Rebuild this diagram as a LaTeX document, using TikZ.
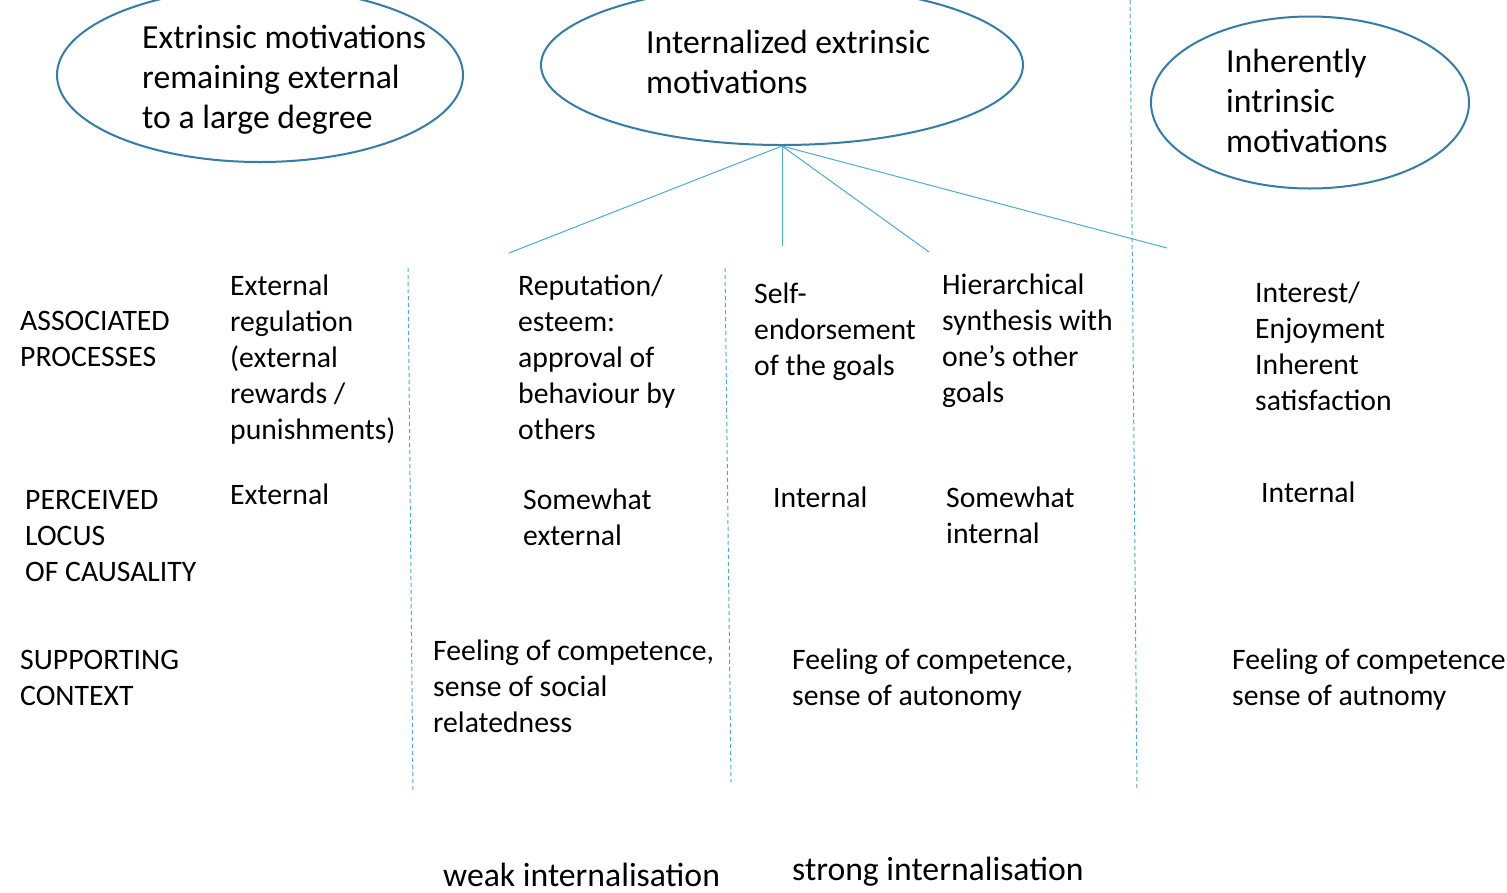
\documentclass[tikz,border=0pt]{standalone}
\usepackage{fontspec}
\setmainfont{Carlito}
\usetikzlibrary{shapes.geometric}
\definecolor{ellcol}{RGB}{52,125,168}
\definecolor{lncol}{RGB}{75,172,210}
\newcommand{\bodyfont}{\fontsize{29.7}{36}\selectfont}
\newcommand{\ellfont}{\fontsize{33.7}{40}\selectfont}
\newcommand{\botfont}{\fontsize{33.7}{38}\selectfont}
\tikzset{
  ell/.style={draw=ellcol, line width=2pt, ellipse, inner sep=0pt},
  body/.style={anchor=north west, inner sep=0pt, align=left, font=\bodyfont},
  elltext/.style={anchor=north west, inner sep=0pt, align=left, font=\ellfont},
  bottext/.style={anchor=base west, inner sep=0pt, font=\botfont},
  conn/.style={draw=lncol, line width=1pt},
  sep/.style={draw=lncol, line width=1pt, dash pattern=on 4pt off 3pt},
}
\begin{document}
\begin{tikzpicture}[x=1pt,y=-1pt]
\useasboundingbox (0,0) rectangle (1507,892);
% ellipses
\node[ell, minimum width=406pt, minimum height=174pt] (e1) at (260,75) {};
\node[ell, minimum width=482pt, minimum height=160pt] (e2) at (782,65) {};
\node[ell, minimum width=318pt, minimum height=172pt] (e3) at (1310,102.5) {};
\node[elltext] (t1) at (142,20) {\strut Extrinsic motivations\\remaining external\\to a large degree};
\node[elltext] (t2) at (646,25) {\strut Internalized extrinsic\\motivations};
\node[elltext] (t3) at (1226,44) {\strut Inherently\\intrinsic\\motivations};
% connectors
\coordinate (c1) at (509,253);
\coordinate (c2) at (782,246);
\coordinate (c3) at (929,252);
\coordinate (c4) at (1167,248);
\draw[conn] (e2.south) -- (c1);
\draw[conn] (e2.south) -- (c2);
\draw[conn] (e2.south) -- (c3);
\draw[conn] (e2.south) -- (c4);
% dashed separators
\coordinate (d1a) at (408,268); \coordinate (d1b) at (413,793);
\coordinate (d2a) at (725,268); \coordinate (d2b) at (731,782);
\coordinate (d3a) at (1130,0);  \coordinate (d3b) at (1137,790);
\draw[sep] (d1a) -- (d1b);
\draw[sep] (d2a) -- (d2b);
\draw[sep] (d3a) -- (d3b);
% row labels
\node[body] (r1) at (20,305) {\strut ASSOCIATED\\PROCESSES};
\node[body] (r2) at (25,484) {\strut PERCEIVED\\LOCUS\\OF CAUSALITY};
\node[body] (r3) at (20,644) {\strut SUPPORTING\\CONTEXT};
% column 1
\node[body] (a1) at (230,270) {\strut External\\regulation\\(external\\rewards /\\punishments)};
\node[body] (b1) at (230,479) {\strut External};
% column 2
\node[body] (a2) at (518,270) {\strut Reputation/\\esteem:\\approval of\\behaviour by\\others};
\node[body] (b2) at (523,484) {\strut Somewhat\\external};
\node[body] (s2) at (433,635) {\strut Feeling of competence,\\sense of social\\relatedness};
% column 3
\node[body] (a3) at (754,278) {\strut Self-\\endorsement\\of the goals};
\node[body] (b3) at (773,482) {\strut Internal};
\node[body] (a4) at (942,269) {\strut Hierarchical\\synthesis with\\one’s other\\goals};
\node[body] (b4) at (946,482) {\strut Somewhat\\internal};
\node[body] (s3) at (792,644) {\strut Feeling of competence,\\sense of autonomy};
% column 4
\node[body] (a5) at (1255,277) {\strut Interest/\\Enjoyment\\Inherent\\satisfaction};
\node[body] (b5) at (1261,477) {\strut Internal};
\node[body] (s5) at (1232,644) {\strut Feeling of competence,\\sense of autnomy};
% bottom
\node[bottext] (w) at (443,886) {weak internalisation};
\node[bottext] (s) at (792,880) {strong internalisation};
\end{tikzpicture}
\end{document}
